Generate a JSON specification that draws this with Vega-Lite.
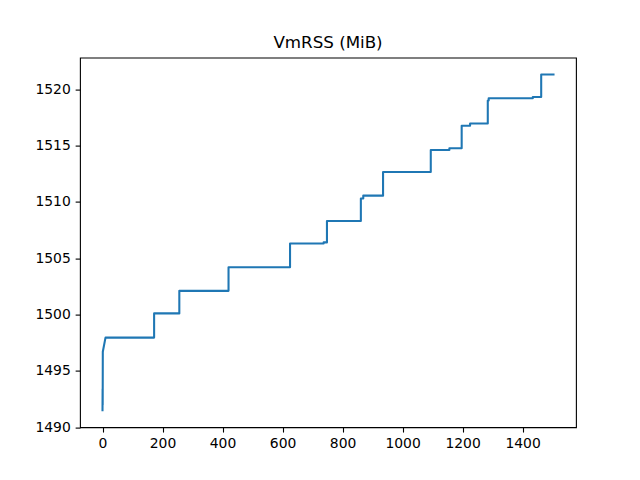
{
  "$schema": "https://vega.github.io/schema/vega-lite/v6.json",
  "autosize": {"type": "none"},
  "width": 496,
  "height": 369.6,
  "padding": {"left": 80, "top": 57.6, "right": 64, "bottom": 52.8},
  "background": "white",
  "title": {
    "text": "VmRSS (MiB)",
    "font": "DejaVu Sans",
    "fontSize": 16.7,
    "fontWeight": "normal",
    "color": "black",
    "anchor": "middle",
    "offset": -7,
    "baseline": "alphabetic"
  },
  "data": {
    "values": [
      {"i": 0, "t": 0, "mib": 1491.5},
      {"i": 1, "t": 0.3, "mib": 1493.4},
      {"i": 2, "t": 0.6, "mib": 1492.0},
      {"i": 3, "t": 1, "mib": 1496.7},
      {"i": 4, "t": 10, "mib": 1497.95},
      {"i": 5, "t": 172, "mib": 1497.95},
      {"i": 6, "t": 172, "mib": 1500.1},
      {"i": 7, "t": 256, "mib": 1500.1},
      {"i": 8, "t": 256, "mib": 1502.1},
      {"i": 9, "t": 420, "mib": 1502.1},
      {"i": 10, "t": 420, "mib": 1504.2},
      {"i": 11, "t": 625, "mib": 1504.2},
      {"i": 12, "t": 625, "mib": 1506.3},
      {"i": 13, "t": 737, "mib": 1506.3},
      {"i": 14, "t": 737, "mib": 1506.4},
      {"i": 15, "t": 748, "mib": 1506.4},
      {"i": 16, "t": 748, "mib": 1508.3},
      {"i": 17, "t": 861, "mib": 1508.3},
      {"i": 18, "t": 861, "mib": 1510.3},
      {"i": 19, "t": 869, "mib": 1510.3},
      {"i": 20, "t": 869, "mib": 1510.55},
      {"i": 21, "t": 935, "mib": 1510.55},
      {"i": 22, "t": 935, "mib": 1512.65},
      {"i": 23, "t": 1094, "mib": 1512.65},
      {"i": 24, "t": 1094, "mib": 1514.6},
      {"i": 25, "t": 1156, "mib": 1514.6},
      {"i": 26, "t": 1156, "mib": 1514.75},
      {"i": 27, "t": 1197, "mib": 1514.75},
      {"i": 28, "t": 1197, "mib": 1516.75},
      {"i": 29, "t": 1225, "mib": 1516.75},
      {"i": 30, "t": 1225, "mib": 1516.95},
      {"i": 31, "t": 1284, "mib": 1516.95},
      {"i": 32, "t": 1284, "mib": 1519.0},
      {"i": 33, "t": 1287, "mib": 1519.0},
      {"i": 34, "t": 1287, "mib": 1519.2},
      {"i": 35, "t": 1434, "mib": 1519.2},
      {"i": 36, "t": 1434, "mib": 1519.3},
      {"i": 37, "t": 1462, "mib": 1519.3},
      {"i": 38, "t": 1462, "mib": 1521.3},
      {"i": 39, "t": 1503, "mib": 1521.3}
    ]
  },
  "mark": {"type": "line", "color": "#1f77b4", "strokeWidth": 2.08, "strokeJoin": "round", "strokeCap": "square", "clip": true},
  "encoding": {
    "x": {
      "field": "t",
      "type": "quantitative",
      "scale": {"domain": [-75, 1578], "nice": false, "zero": false},
      "axis": {"values": [0, 200, 400, 600, 800, 1000, 1200, 1400], "format": "d", "title": null}
    },
    "y": {
      "field": "mib",
      "type": "quantitative",
      "scale": {"domain": [1490, 1522.8], "nice": false, "zero": false},
      "axis": {"values": [1490, 1495, 1500, 1505, 1510, 1515, 1520], "format": "d", "title": null}
    },
    "order": {"field": "i", "type": "quantitative"}
  },
  "config": {
    "view": {"stroke": "black", "strokeWidth": 1.11},
    "axis": {
      "grid": false,
      "domain": false,
      "tickColor": "black",
      "tickWidth": 1.11,
      "tickSize": 4.86,
      "labelPadding": 4.86,
      "labelFont": "DejaVu Sans",
      "labelFontSize": 13.9,
      "labelColor": "black"
    }
  }
}
